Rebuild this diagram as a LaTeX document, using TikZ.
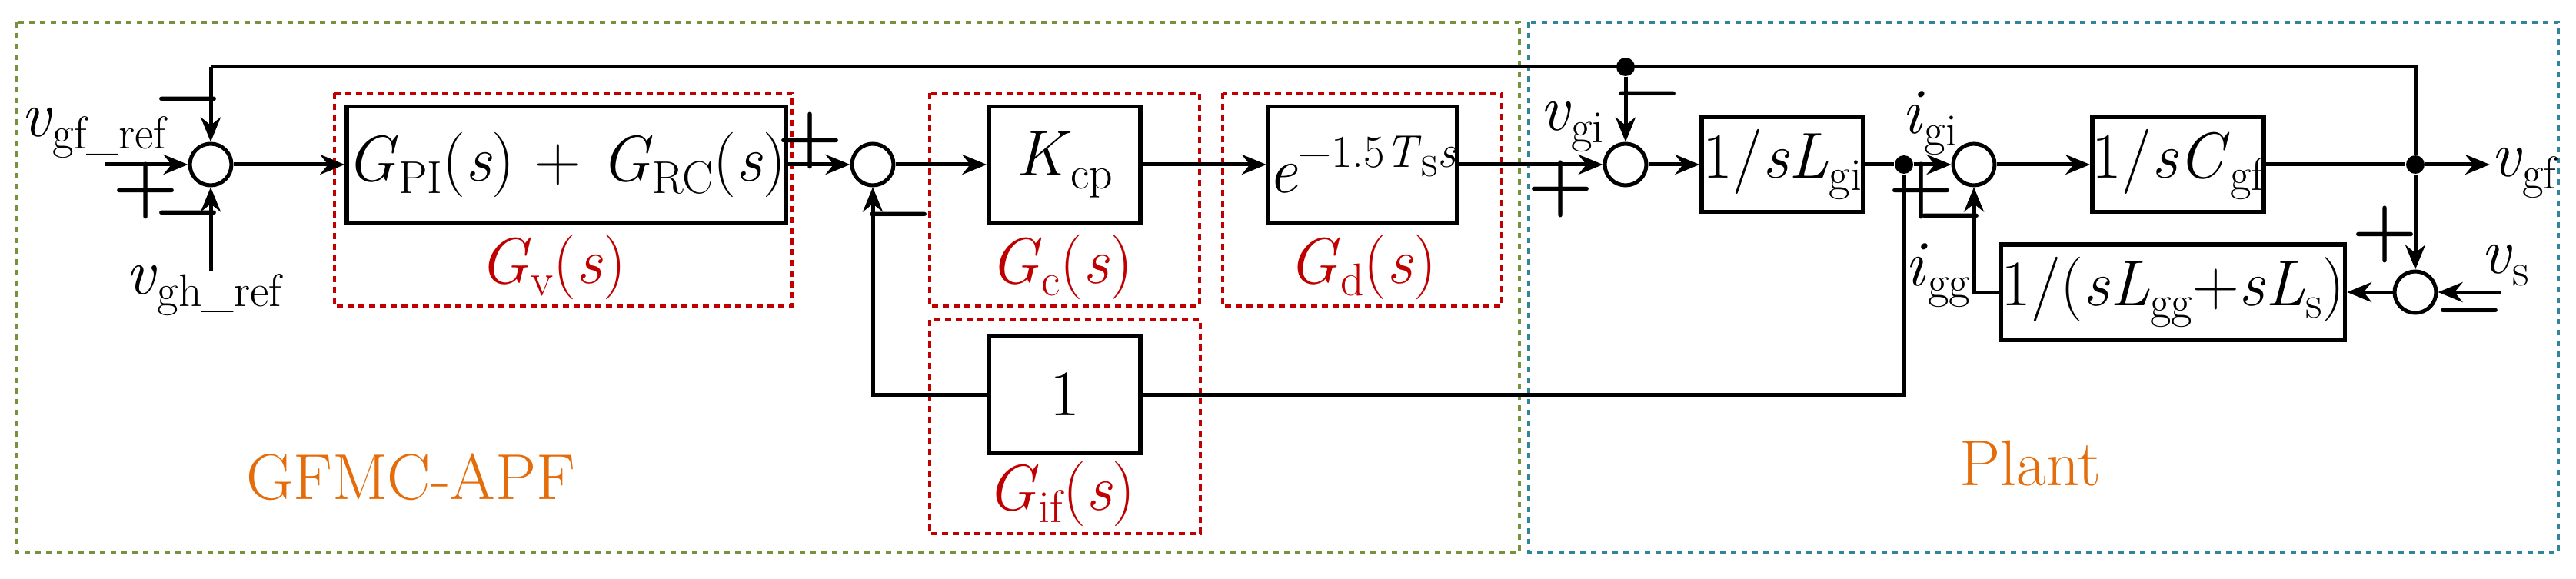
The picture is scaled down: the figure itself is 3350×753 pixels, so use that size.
\documentclass[tikz,border=0pt]{standalone}
\usepackage{fontspec}
\usetikzlibrary{arrows.meta}
\definecolor{cgreen}{RGB}{118,146,60}
\definecolor{cblue}{RGB}{49,133,155}
\definecolor{cred}{RGB}{192,0,0}
\definecolor{corange}{RGB}{228,108,10}
\newcommand\sbx[1]{\raisebox{-0.45ex}{\fontsize{17}{17}\selectfont #1}}
\newcommand\spx[1]{\raisebox{0.9ex}{\fontsize{17}{17}\selectfont #1}}
\newcommand\vi[2]{\textit{#1}\sbx{#2}}
\begin{document}
\begin{tikzpicture}[x=0.1mm,y=-0.1mm,
  every node/.style={font=\rmfamily\fontsize{24}{26}\selectfont},
  blk/.style={draw,line width=0.55mm,inner sep=0pt},
  sum/.style={draw,circle,line width=0.5mm,minimum size=5.4mm,inner sep=0pt},
  dot/.style={circle,fill,minimum size=2.4mm,inner sep=0pt},
  sig/.style={line width=0.5mm},
  arr/.style={sig,-{Stealth[length=3.2mm,width=2.6mm]}},
  rbox/.style={draw=cred,line width=0.4mm,dash pattern=on 0.8mm off 0.6mm},
  lbl/.style={text=cred},
  sgn/.style={font=\rmfamily\fontsize{28}{28}\selectfont\bfseries}]
\useasboundingbox (0,0) rectangle (3350,753);
% outer boxes
\draw[cgreen,line width=0.4mm,dash pattern=on 0.7mm off 0.7mm] (21,29) rectangle (1976,718);
\draw[cblue,line width=0.4mm,dash pattern=on 0.7mm off 0.7mm] (1988,29) rectangle (3327,718);
\node[text=corange] (gfmc) at (534,620) {GFMC-APF};
\node[text=corange] (plant) at (2640,603) {Plant};
% red groups
\draw[rbox] (435,121) rectangle (1030,398);
\draw[rbox] (1209,121) rectangle (1560,398);
\draw[rbox] (1590,121) rectangle (1953,398);
\draw[rbox] (1209,416) rectangle (1561,694);
\node[lbl] (lv) at (719,347) {\vi{G}{v}(\textit{s})};
\node[lbl] (lc) at (1380,347) {\vi{G}{c}(\textit{s})};
\node[lbl] (ld) at (1772,347) {\vi{G}{d}(\textit{s})};
\node[lbl] (lif) at (1380,642) {\vi{G}{if}(\textit{s})};
% blocks
\node[blk,minimum width=50.5mm,minimum height=15.1mm] (gpi) at (736.5,214) {\vi{G}{PI}(\textit{s}) + \vi{G}{RC}(\textit{s})};
\node[blk,minimum width=19.7mm,minimum height=15.1mm] (kcp) at (1384.5,214) {\vi{K}{cp}};
\node[blk,minimum width=22.6mm,minimum height=15.1mm] (gd) at (1772,214) {\textit{e}\spx{−1.5\textit{T}\sbx{s}\textit{s}}};
\node[blk,minimum width=19.7mm,minimum height=15.2mm] (one) at (1384.5,513) {1};
\node[blk,minimum width=21mm,minimum height=12.3mm] (lgi) at (2318,214) {1/\textit{s}\vi{L}{gi}};
\node[blk,minimum width=22.1mm,minimum height=12.3mm] (cgf) at (2832.5,214) {1/\textit{s}\vi{C}{gf}};
\node[blk,minimum width=40.6mm,minimum height=12.4mm] (lgg) at (2826,380) {1/(\textit{s}\vi{L}{gg}+\textit{s}\vi{L}{s})};
% sums
\node[sum] (s1) at (274,214) {};
\node[sum] (s2) at (1135,214) {};
\node[sum] (s3) at (2114,214) {};
\node[sum] (s4) at (2567,214) {};
\node[sum] (s5) at (3141,380) {};
% dots and corners
\node[dot] (d1) at (2114,87) {};
\node[dot] (d2) at (2476,214) {};
\node[dot] (d3) at (3141,214) {};
\coordinate (c1) at (274,87);
\coordinate (c2) at (3141,87);
\coordinate (in1) at (137,214);
\coordinate (in2) at (274,353);
\coordinate (out) at (3238,214);
\coordinate (vsin) at (3252,380);
\coordinate (f1) at (2476,513);
\coordinate (f2) at (1135,513);
\coordinate (g1) at (2567,380);
% labels
\node (vgfref) at (122,173) {\vi{v}{gf\_ref}};
\node (vghref) at (265,378) {\vi{v}{gh\_ref}};
\node (vgi) at (2044,165) {\vi{v}{gi}};
\node (igi) at (2509,160) {\vi{i}{gi}};
\node (igg) at (2520,358) {\vi{i}{gg}};
\node (vgf) at (3282,225) {\vi{v}{gf}};
\node (vs) at (3258,345) {\vi{v}{s}};
% signs
\node[sgn] at (190,248) {+};
\node[sgn] at (245,140) {−};
\node[sgn] at (245,288) {−};
\node[sgn] at (1054,183) {+};
\node[sgn] at (1169,290) {−};
\node[sgn] at (2143,133) {−};
\node[sgn] at (2030,246) {+};
\node[sgn] at (2499,248) {+};
\node[sgn] at (2537,292) {−};
\node[sgn] at (3102,305) {+};
\node[sgn] at (3212,415) {−};
% connectors
\draw[arr] (in1) -- (s1);
\draw[arr] (in2) -- (s1);
\draw[arr] (s1) -- (gpi);
\draw[arr] (gpi) -- (s2);
\draw[arr] (s2) -- (kcp);
\draw[arr] (kcp) -- (gd);
\draw[arr] (gd) -- (s3);
\draw[arr] (s3) -- (lgi);
\draw[sig] (lgi) -- (d2);
\draw[arr] (d2) -- (s4);
\draw[arr] (s4) -- (cgf);
\draw[sig] (cgf) -- (d3);
\draw[arr] (d3) -- (out);
\draw[arr] (d3) -- (s5);
\draw[arr] (vsin) -- (s5);
\draw[arr] (s5) -- (lgg);
\draw[arr] (lgg.west) -- (g1) -- (s4);
\draw[sig] (d3) -- (c2) -- (c1);
\draw[arr] (c1) -- (s1);
\draw[arr] (d1) -- (s3);
\draw[sig] (d2) -- (f1) -- (one);
\draw[arr] (one) -- (f2) -- (s2);
\end{tikzpicture}
\end{document}
